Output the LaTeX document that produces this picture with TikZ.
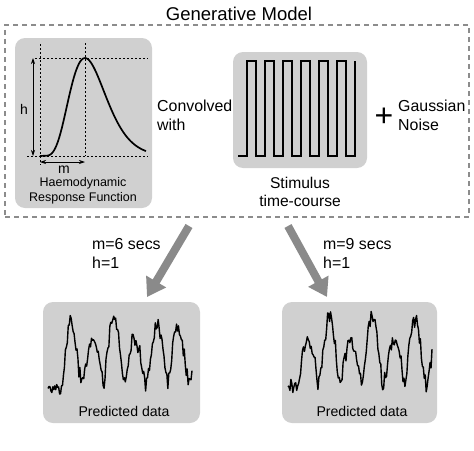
\documentclass[tikz,border=0pt]{standalone}
\usepackage{fontspec}
\setmainfont{Liberation Sans}
\usetikzlibrary{arrows.meta}
\definecolor{boxgray}{HTML}{D0D0D0}
\definecolor{arrgray}{HTML}{8A8A8A}
\definecolor{dashgray}{HTML}{8C8C8C}
\begin{document}
\begin{tikzpicture}[x=1pt,y=-1pt,
  graybox/.style={fill=boxgray, draw=none, rounded corners=10pt, inner sep=0pt},
  fatarrow/.style={draw=arrgray, line width=8pt, -{Triangle[width=22pt,length=18pt]}},
  guide/.style={dash pattern=on 2pt off 2pt, line width=0.6pt},
  sig/.style={line width=1.4pt, line join=round},
  lbl/.style={inner sep=0pt, font=\fontsize{15.9}{19}\selectfont, align=left},
  small/.style={inner sep=0pt, font=\fontsize{12.5}{15}\selectfont, align=center}
]
\useasboundingbox (0,0) rectangle (474,450);
\fill[white] (0,0) rectangle (474,450);

% title and outer dashed box
\node[inner sep=0pt, font=\fontsize{18.5}{20}\selectfont] (title) at (239,14) {Generative Model};
\node[draw=dashgray, line width=1.6pt, dash pattern=on 5pt off 4pt, minimum width=464pt, minimum height=192pt, inner sep=0pt] (gen) at (237,121) {};

% HRF box
\node[graybox, minimum width=137pt, minimum height=170pt] (hrf) at (83.5,123) {};
\draw[guide] (40,44) -- (40,165);
\draw[guide] (85,43) -- (85,156);
\draw[guide] (35,58) -- (148,58);
\draw[guide] (27,156) -- (148,156);
\draw[line width=0.7pt, {Stealth[length=6pt,width=4pt]}-{Stealth[length=6pt,width=4pt]}] (33,58) -- (33,156);
\draw[line width=0.7pt, {Stealth[length=6pt,width=4pt]}-{Stealth[length=6pt,width=4pt]}] (40,162) -- (85,162);
\node[inner sep=0pt, font=\fontsize{14}{16}\selectfont] (hlab) at (24,109) {h};
\node[inner sep=0pt, font=\fontsize{14}{16}\selectfont] (mlab) at (64,170) {m};
\draw[sig, line width=1.7pt] (40,156) -- plot[domain=48:146, samples=80, smooth] (\x, {156 - 98*exp(6*ln((\x-40)/45) + 6 - 6*(\x-40)/45)});
\node[small] (hrflab) at (83,191) {Haemodynamic\\Response Function};

\node[lbl] (conv) at (157,115) [anchor=west] {Convolved\\with};

% stimulus box
\node[graybox, minimum width=134pt, minimum height=116pt] (stim) at (300,110) {};
\draw[line width=1.3pt] (238,156) \foreach \k in {0,...,5}{ -- ({247+18*\k},156) -- ({247+18*\k},61) -- ({256+18*\k},61) -- ({256+18*\k},156)} -- (355,156) -- (355,61);
\node[inner sep=0pt, font=\fontsize{15.6}{18}\selectfont, align=center] (stimlab) at (300,192) {Stimulus\\time-course};

\node[inner sep=0pt, font=\fontsize{32}{32}\selectfont] (plus) at (384,117) {+};
\node[lbl, anchor=west] (noise) at (398,115) {Gaussian\\Noise};

% arrows
\coordinate (a1s) at (189,226);
\coordinate (a1e) at (147,297);
\coordinate (a2s) at (288,226);
\coordinate (a2e) at (327,297);
\draw[fatarrow] (a1s) -- (a1e);
\draw[fatarrow] (a2s) -- (a2e);
\node[lbl, anchor=west] (p1) at (92,253) {m=6 secs\\h=1};
\node[lbl, anchor=west] (p2) at (323,253) {m=9 secs\\h=1};

% predicted data boxes
\node[graybox, minimum width=157pt, minimum height=121pt] (pred1) at (121.5,362.5) {};
\node[graybox, minimum width=155pt, minimum height=121pt] (pred2) at (359.5,362.5) {};
\pgfmathsetseed{7}
\draw[sig] plot[domain=48:192, samples=150] (\x, {387 - 70*min(1,max(0,(\x-60)/8))*(0.82+0.18*sin(7*\x))*pow((1.02+sin(16.744*(\x-65.6)))/2.04,0.6) + 6.5*rand + 2.5*sin(97*(\x-48))});
\pgfmathsetseed{19}
\draw[sig] plot[domain=288:432, samples=150] (\x, {388 - 72*min(1,max(0,(\x-292)/10))*(0.82+0.18*sin(9*\x))*pow((1.02+sin(16.744*(\x-302.6)))/2.04,0.6) + 6.5*rand + 2.5*sin(89*(\x-288))});
\node[inner sep=0pt, font=\fontsize{14.1}{16}\selectfont] (pl1) at (124,411) {Predicted data};
\node[inner sep=0pt, font=\fontsize{14.1}{16}\selectfont] (pl2) at (362,411) {Predicted data};
\end{tikzpicture}
\end{document}
